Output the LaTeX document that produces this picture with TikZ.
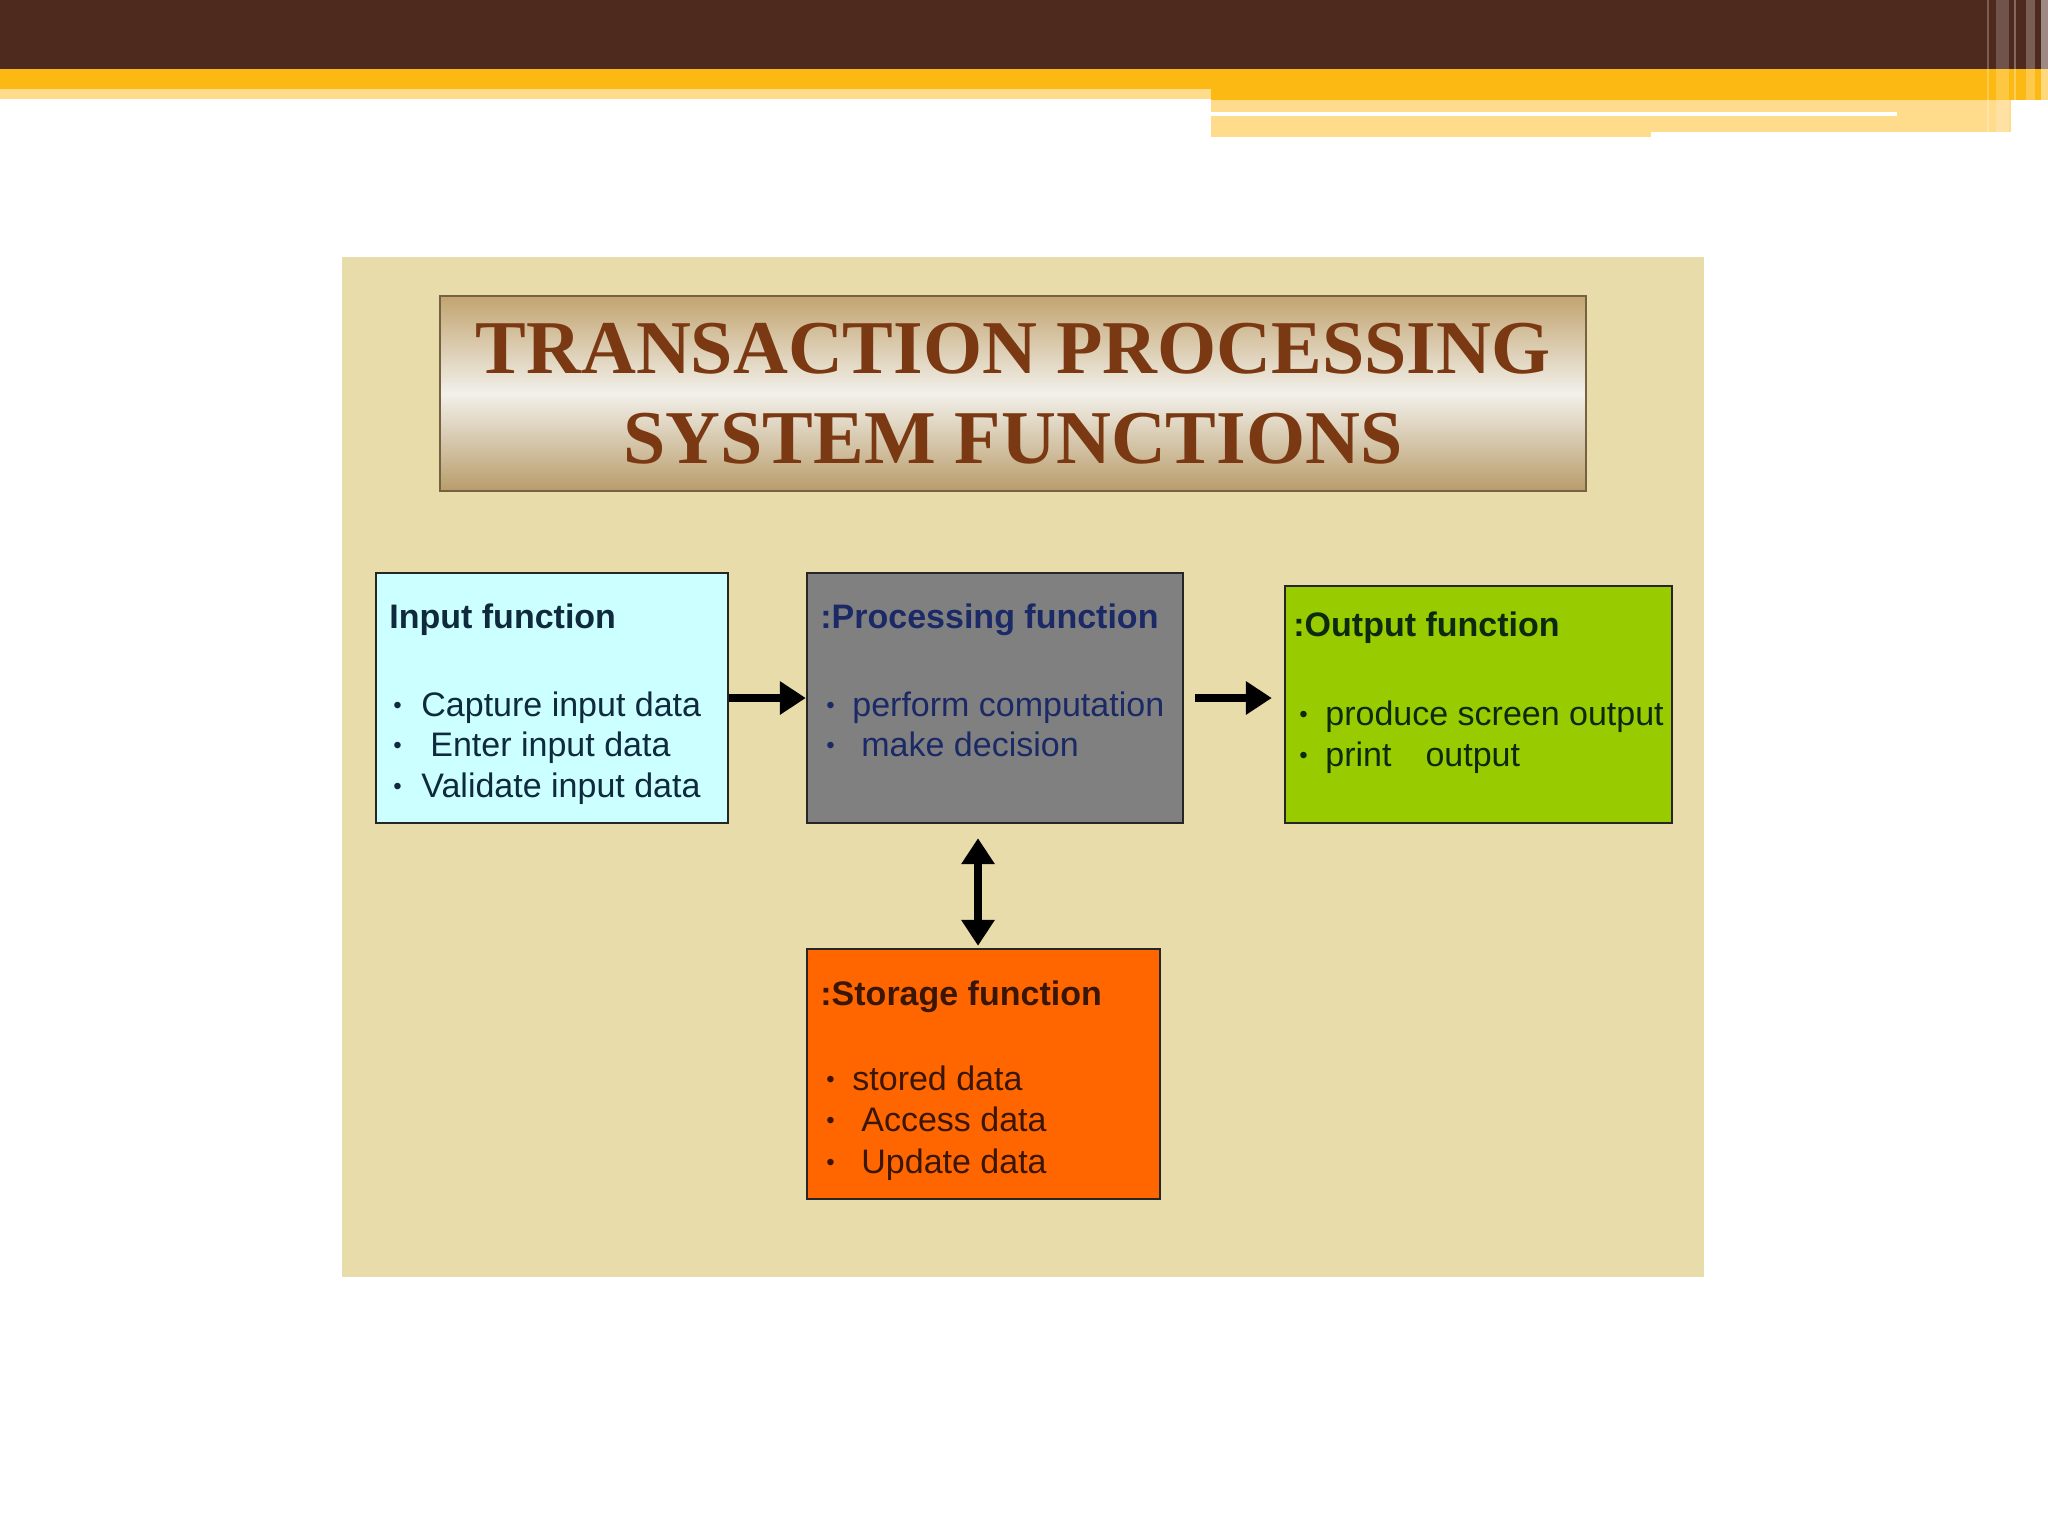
\documentclass[tikz,border=0pt]{standalone}
\usepackage{fontspec}
\setmainfont{Liberation Sans}
\newfontfamily\titlefont{Liberation Serif}
\usetikzlibrary{arrows.meta,positioning,calc}
\definecolor{hdrbrown}{HTML}{4E291E}
\definecolor{hdrorange}{HTML}{FDB913}
\definecolor{hdrlight}{HTML}{FFDB8C}
\definecolor{panel}{HTML}{E8DCAB}
\definecolor{titletan}{HTML}{C2A470}
\definecolor{titlemid}{HTML}{F2F0EA}
\definecolor{titletext}{HTML}{7A3912}
\definecolor{inputfill}{HTML}{CCFFFF}
\definecolor{procfill}{HTML}{808080}
\definecolor{outfill}{HTML}{99CC00}
\definecolor{storefill}{HTML}{FF6600}
\definecolor{inputtext}{HTML}{0F2A3C}
\definecolor{proctext}{HTML}{1B2A66}
\definecolor{outtext}{HTML}{0C2A10}
\definecolor{storetext}{HTML}{3A1606}
\newcommand{\bul}[1]{\makebox[#1][l]{\raisebox{1.5pt}{\fontsize{12}{12}\selectfont•}}}
\tikzset{
    funcbox/.style={
    rectangle,draw=black!85,line width=1.2pt,inner sep=0pt
    },
    titlebox/.style={
    rectangle,draw=titletan!60!black,line width=1.2pt,inner sep=0pt,
    top color=titletan,bottom color=titletan!95!black,middle color=titlemid,
    text=titletext,align=center,
    font=\titlefont\bfseries\fontsize{38}{45}\selectfont
    },
    head/.style={
    anchor=base west,inner sep=0pt,font=\bfseries\fontsize{17}{20}\selectfont
    },
    item/.style={
    anchor=base west,inner sep=0pt,font=\fontsize{17}{20}\selectfont
    },
    flow/.style={
    -{Triangle[length=13pt,width=16pt]},line width=4pt,black
    },
    dflow/.style={
    {Triangle[length=13pt,width=16pt]}-{Triangle[length=13pt,width=16pt]},line width=4pt,black
    },
}
\begin{document}
\begin{tikzpicture}[x=0.5pt,y=-0.5pt]
  \useasboundingbox (0,0) rectangle (2048,1536);
  \fill[white] (0,0) rectangle (2048,1536);

  % slide header
  \fill[hdrbrown] (0,0) rectangle (2048,69);
  \fill[hdrorange] (0,69) rectangle (2048,89);
  \fill[hdrorange] (1211,89) rectangle (2048,100);
  \fill[hdrlight] (0,89) rectangle (1211,99);
  \fill[hdrlight] (1211,100) rectangle (2011,132);
  \fill[hdrlight] (1211,132) rectangle (1651,137);
  \fill[white] (1211,112) rectangle (1897,116);
  \fill[white,opacity=0.25] (1987,0) rectangle (1989,137);
  \fill[white,opacity=0.2] (1996,0) rectangle (2009,137);
  \fill[white,opacity=0.3] (2014,0) rectangle (2016,137);
  \fill[white,opacity=0.25] (2026,0) rectangle (2035,137);
  \fill[white,opacity=0.45] (2041,0) rectangle (2048,137);

  % backdrop
  \fill[panel] (342,257) rectangle (1704,1277);

  \node[titlebox,minimum width=573pt,minimum height=97.5pt] (title) at (1013,393.5)
    {TRANSACTION PROCESSING\\SYSTEM FUNCTIONS};

  % boxes
  \node[funcbox,fill=inputfill,minimum width=176pt,minimum height=125pt] (input) at (552,698) {};
  \node[funcbox,fill=procfill,minimum width=188pt,minimum height=125pt] (process) at (995,698) {};
  \node[funcbox,fill=outfill,minimum width=193.5pt,minimum height=118.5pt] (output) at (1478.5,704.5) {};
  \node[funcbox,fill=storefill,minimum width=176.5pt,minimum height=125pt] (storage) at (983.5,1074) {};

  % input
  \node[head,text=inputtext] (inhead) at (389,628) {Input function};
  \node[item,text=inputtext] (in1) at (393,716) {\bul{14pt}Capture input data};
  \node[item,text=inputtext] (in2) at (393,756) {\bul{18.5pt}Enter input data};
  \node[item,text=inputtext] (in3) at (393,797) {\bul{14pt}Validate input data};

  % processing
  \node[head,text=proctext] (prochead) at (820,628) {:Processing function};
  \node[item,text=proctext] (proc1) at (826,716) {\bul{13pt}perform computation};
  \node[item,text=proctext] (proc2) at (826,756) {\bul{17.5pt}make decision};

  % output
  \node[head,text=outtext] (outhead) at (1293,636) {:Output function};
  \node[item,text=outtext] (out1) at (1299,725) {\bul{13pt}produce screen output};
  \node[item,text=outtext] (out2) at (1299,766) {\bul{13pt}print\hspace{1em}output};

  % storage
  \node[head,text=storetext] (storehead) at (820,1005) {:Storage function};
  \node[item,text=storetext] (store1) at (826,1090) {\bul{13pt}stored data};
  \node[item,text=storetext] (store2) at (826,1131) {\bul{17.5pt}Access data};
  \node[item,text=storetext] (store3) at (826,1173) {\bul{17.5pt}Update data};

  % arrows
  \draw[flow] (input.east) -- (process.west);
  \draw[flow,shorten <=5.5pt,shorten >=6pt] (process.east) -- (process.east -| output.west);
  \draw[dflow,shorten <=1pt,shorten >=7pt] ([xshift=-2.75pt]storage.north)
    -- ([xshift=-2.75pt]storage.north |- process.south);
\end{tikzpicture}
\end{document}
